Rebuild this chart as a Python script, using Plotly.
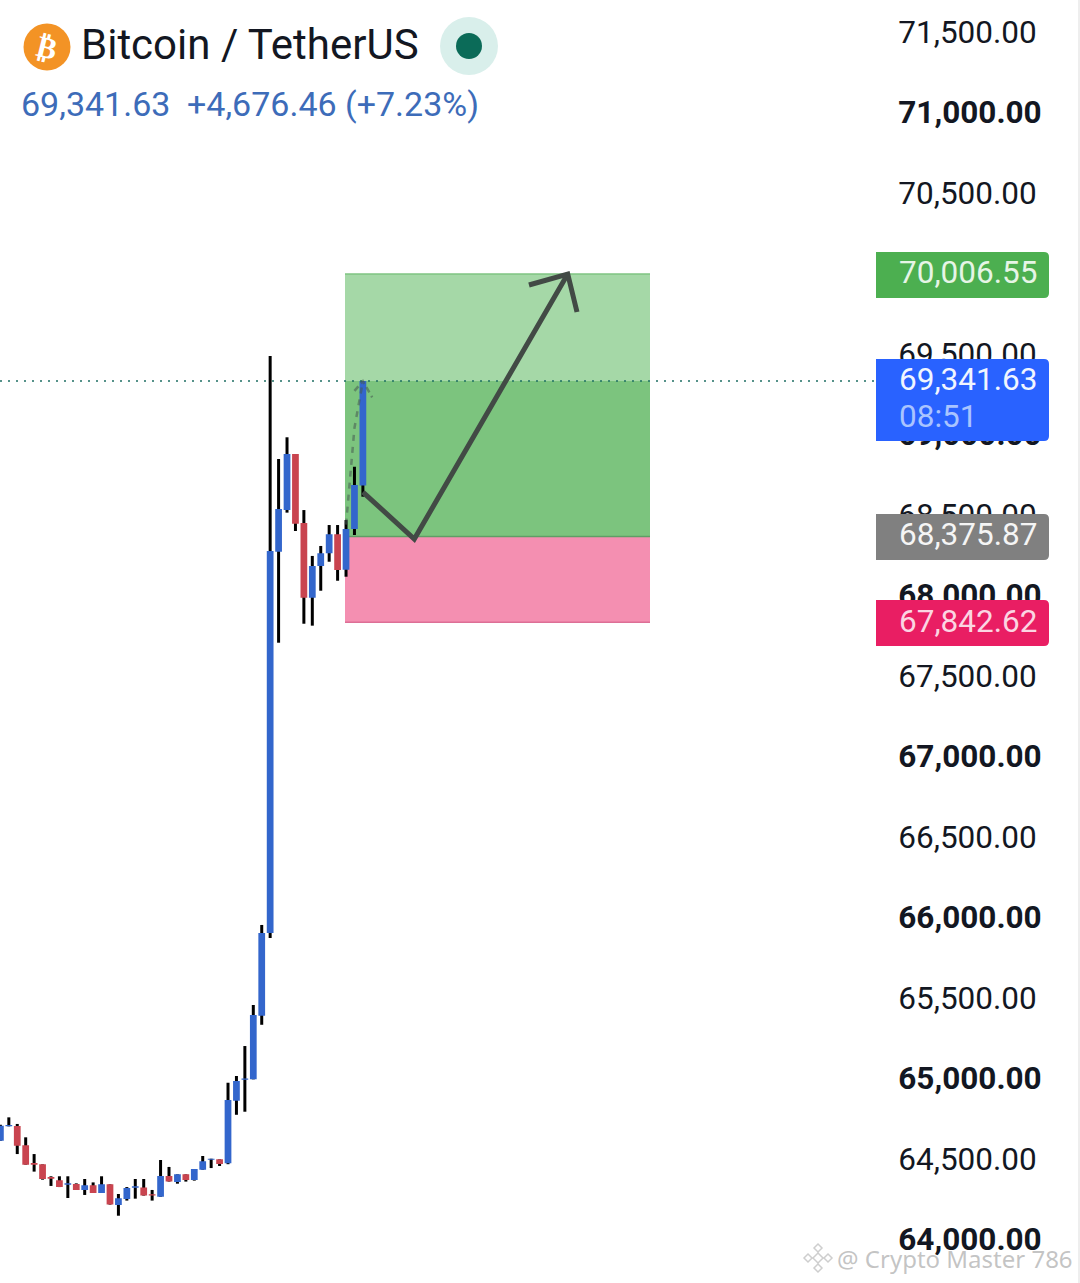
import plotly.graph_objects as go

# ---- data ----
opens = [64623,64712,64714,64594,64484,64476,64397,64377,64350,64354,64317,64346,64298,64352,64224,64261,64331,64333,64290,64275,64404,64367,64414,64379,64443,64505,64507,
         64483,64871,65002,65004,65399,65913,68281,68540,68888,68460,67996,68193,68271,68389,68170,68422,68692]
closes = [64716,64720,64592,64474,64474,64385,64387,64335,64358,64317,64346,64298,64352,64226,64265,64329,64340,64282,64282,64404,64369,64414,64379,64447,64495,64511,64478,
          64876,64994,65010,65404,65913,68286,68547,68888,68455,67996,68193,68271,68389,68168,68422,68696,69341.63]
highs = [64722,64768,64727,64644,64540,64476,64402,64402,64402,64358,64385,64364,64402,64352,64292,64335,64385,64385,64317,64503,64460,64414,64414,64447,64528,64511,64507,
         64983,65025,65211,65466,65963,69497,68857,68992,68888,68540,68255,68317,68447,68447,68478,68809,69341.63]
lows = [64623,64712,64540,64474,64431,64381,64342,64335,64267,64317,64286,64298,64298,64226,64157,64251,64263,64282,64251,64275,64369,64356,64369,64375,64443,64453,64466,
        64477,64784,64803,65004,65343,65882,67716,68524,68410,67834,67822,68039,68219,68101,68126,68385,68623]
tick_values = [71500,71000,70500,70000,69500,69000,68500,68000,67500,67000,66500,66000,65500,65000,64500,64000]
tick_bold = [71000,70000,69000,68000,67000,66000,65000,64000]
last_price = 69341.63
target_price = 70006.55
entry_price = 68375.87
stop_price = 67842.62
path_x = [43.0,49.1,67.3]
path_y = [68652,68360,70006]
head_x = [62.7,67.3,68.4]
head_y = [69938,70006,69770]
proj_x = [41.0,42.0,43.0]
proj_y = [68450,69050,69341]
proj_head_x = [42.0,43.0,44.1]
proj_head_y = [69280,69341,69240]

# ---- layout helpers ----
W, H = 1080, 1283
PLOT_W = 876
XPX = 8.43
XOFF = 0.4
X0 = -XOFF / XPX
X1 = (PLOT_W - XOFF) / XPX
Y_TOP = 71000 + 114 / 0.161
Y_BOT = 71000 - (H - 114) / 0.161

def px(x):
    return x / PLOT_W

def py(y):
    return 1 - y / H

def badge(x0, y0, x1, y1, color, r=5):
    p = (f"M {px(x0)},{py(y0)} L {px(x1-r)},{py(y0)} Q {px(x1)},{py(y0)} {px(x1)},{py(y0+r)} "
         f"L {px(x1)},{py(y1-r)} Q {px(x1)},{py(y1)} {px(x1-r)},{py(y1)} L {px(x0)},{py(y1)} Z")
    return dict(type="path", xref="paper", yref="paper", path=p, fillcolor=color,
                line=dict(width=0), layer="above")

def circle(cx, cy, r, color):
    return dict(type="circle", xref="paper", yref="paper", x0=px(cx-r), x1=px(cx+r),
                y0=py(cy+r), y1=py(cy-r), fillcolor=color, line=dict(width=0), layer="above")

def label(x, y, text, size, color, family="Roboto", **kw):
    return dict(xref="paper", yref="paper", x=px(x), y=py(y), text=text, showarrow=False,
                xanchor=kw.pop("xanchor", "left"), yanchor="middle",
                font=dict(family=family, size=size, color=color), **kw)

def diamond(cx, cy, r, color="rgba(190,190,190,0.75)", width=1.5):
    pts = [(cx, cy - r), (cx + r, cy), (cx, cy + r), (cx - r, cy)]
    d = "M " + " L ".join(f"{px(a)},{py(b)}" for a, b in pts) + " Z"
    return dict(type="path", xref="paper", yref="paper", path=d, fillcolor="rgba(0,0,0,0)",
                line=dict(color=color, width=width), layer="above")

x = list(range(len(opens)))
fig = go.Figure()

fig.add_trace(go.Bar(x=x, base=lows, y=[h - l for h, l in zip(highs, lows)],
                     width=3 / XPX, marker=dict(color="#000000", line=dict(width=0)),
                     hoverinfo="skip", showlegend=False))
fig.add_trace(go.Candlestick(x=x, open=opens, high=highs, low=lows, close=closes,
                             increasing=dict(fillcolor="#3366cc", line=dict(color="#3366cc", width=0)),
                             decreasing=dict(fillcolor="#c9444f", line=dict(color="#c9444f", width=0)),
                             whiskerwidth=0, showlegend=False))
fig.add_trace(go.Scatter(x=[X0, X1], y=[last_price, last_price], mode="lines", showlegend=False,
                         hoverinfo="skip", line=dict(color="#1f6f64", width=1.5, dash="2px,6px")))
fig.add_trace(go.Scatter(x=proj_x, y=proj_y, mode="lines", showlegend=False,
                         line=dict(color="rgba(70,90,80,0.55)", width=2.5, dash="6px,6px")))
fig.add_trace(go.Scatter(x=proj_head_x, y=proj_head_y, mode="lines", showlegend=False,
                         line=dict(color="rgba(70,90,80,0.55)", width=2.5, dash="6px,4px")))
fig.add_trace(go.Scatter(x=path_x, y=path_y, mode="lines", showlegend=False,
                         line=dict(color="#424a45", width=5)))
fig.add_trace(go.Scatter(x=head_x, y=head_y, mode="lines", showlegend=False,
                         line=dict(color="#424a45", width=5)))

zone_left = (345 - XOFF) / XPX
zone_right = (650 - XOFF) / XPX
shapes = [
    dict(type="rect", xref="x", yref="y", x0=zone_left, x1=zone_right, y0=last_price, y1=target_price,
         fillcolor="#a5d8a7", line=dict(width=0), layer="below"),
    dict(type="rect", xref="x", yref="y", x0=zone_left, x1=zone_right, y0=entry_price, y1=last_price,
         fillcolor="#7cc47e", line=dict(width=0), layer="below"),
    dict(type="rect", xref="x", yref="y", x0=zone_left, x1=zone_right, y0=stop_price, y1=entry_price,
         fillcolor="#f48fb1", line=dict(width=0), layer="below"),
    dict(type="line", xref="x", yref="y", x0=zone_left, x1=zone_right, y0=target_price, y1=target_price,
         line=dict(color="#7fc482", width=1.5), layer="below"),
    dict(type="line", xref="x", yref="y", x0=zone_left, x1=zone_right, y0=entry_price, y1=entry_price,
         line=dict(color="#5f9e66", width=1.5), layer="below"),
    dict(type="line", xref="x", yref="y", x0=zone_left, x1=zone_right, y0=stop_price, y1=stop_price,
         line=dict(color="#dd6f96", width=1.5), layer="below"),
    badge(876, 252, 1049, 298, "#4caf50"),
    badge(876, 359, 1049, 441, "#2962ff"),
    badge(876, 514, 1049, 560, "#808080"),
    badge(876, 600, 1049, 646, "#e91e63"),
    circle(47, 47, 23.5, "#f39325"),
    circle(469, 46, 29, "#d9efeb"),
    circle(469, 46, 13, "#0b6b58"),
    dict(type="line", xref="paper", yref="paper", x0=px(1079), x1=px(1079), y0=0, y1=1,
         line=dict(color="#eeeeee", width=2), layer="above"),
    diamond(818, 1258, 5),
    diamond(818, 1248, 4),
    diamond(818, 1268, 4),
    diamond(808, 1258, 4),
    diamond(828, 1258, 4),
]

annotations = [
    label(47, 47, "<b>₿</b>", 30, "#ffffff", family="DejaVu Sans", xanchor="center", textangle=14),
    label(79, 45, "Bitcoin / TetherUS", 42, "#131722"),
    label(19, 104, "69,341.63", 34, "#3d6cb9"),
    label(185, 104, "+4,676.46 (+7.23%)", 34, "#3d6cb9"),
    label(897, 272, "70,006.55", 31.5, "#e6f5e6"),
    label(897, 379, "69,341.63", 31.5, "#f0f5ff"),
    label(897, 416, "08:51", 31.5, "#a9c4ff"),
    label(897, 534, "68,375.87", 31.5, "#f5f5f5"),
    label(897, 621, "67,842.62", 31.5, "#fbd5e2"),
    label(835, 1258, "@ Crypto Master 786", 24, "rgba(170,170,170,0.7)", family="Noto Sans"),
]

tick_text = [f"<b>{v:,.2f}</b>" if v in tick_bold else f"{v:,.2f}" for v in tick_values]

fig.update_layout(
    width=W, height=H,
    margin=dict(l=0, r=W - PLOT_W, t=0, b=0, pad=0),
    paper_bgcolor="#ffffff", plot_bgcolor="#ffffff",
    showlegend=False, barmode="overlay", boxmode="overlay", boxgap=0.2, boxgroupgap=0,
    xaxis=dict(range=[X0, X1], visible=False, rangeslider=dict(visible=False), type="linear"),
    yaxis=dict(range=[Y_BOT, Y_TOP], side="right", showgrid=False, zeroline=False, showline=False,
               tickmode="array", tickvals=tick_values, ticktext=tick_text,
               ticks="outside", ticklen=15, tickwidth=1, tickcolor="rgba(0,0,0,0)",
               ticklabelshift=-2,
               tickfont=dict(family="Roboto", size=31.5, color="#131722")),
    shapes=shapes, annotations=annotations,
)

fig.write_html("out.html", config=dict(displayModeBar=False),
               post_script="document.body.style.margin='0';document.body.style.overflow='hidden';")
